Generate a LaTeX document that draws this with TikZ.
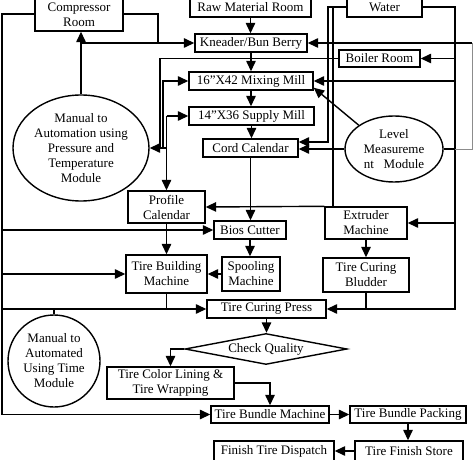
\documentclass[tikz,border=0pt]{standalone}
\usepackage{fontspec}
\setmainfont{Liberation Serif}
\usetikzlibrary{shapes.geometric,arrows.meta,calc}
\begin{document}
\begin{tikzpicture}[x=1bp,y=-1bp,
  font=\fontsize{13bp}{15bp}\selectfont,
  line width=1.4bp,
  box/.style={draw,rectangle,inner sep=0pt,align=center},
  oval/.style={draw,ellipse,inner sep=0pt,align=center},
  arr/.style={-{Triangle[length=10.5bp,width=9.5bp]}},
  faint/.style={draw=black!45,line width=0.8bp},
]
\useasboundingbox (0,0) rectangle (474,460);
% boxes
\node[box,minimum width=88bp,minimum height=32bp] (comp) at (79,15) {Compressor\\Room};
\node[box,minimum width=121bp,minimum height=20bp] (raw) at (250.5,7) {Raw Material Room};
\node[box,minimum width=75bp,minimum height=20bp] (water) at (384.5,7) {Water};
\node[box,minimum width=112bp,minimum height=18bp] (kneader) at (251,43) {Kneader/Bun Berry};
\node[box,minimum width=81bp,minimum height=17bp] (boiler) at (379.5,58.5) {Boiler Room};
\node[box,minimum width=124bp,minimum height=18bp] (mix) at (251,81) {16”X42 Mixing Mill};
\node[box,minimum width=125bp,minimum height=18bp] (supply) at (251.5,116) {14”X36 Supply Mill};
\node[box,minimum width=95bp,minimum height=18bp] (cord) at (250.5,148) {Cord Calendar};
\node[box,minimum width=77bp,minimum height=32bp] (profile) at (166.5,207) {Profile\\Calendar};
\node[box,minimum width=72bp,minimum height=18bp] (bios) at (250,230) {Bios Cutter};
\node[box,minimum width=82bp,minimum height=32bp] (extruder) at (366,223) {Extruder\\Machine};
\node[box,minimum width=81bp,minimum height=38bp] (building) at (166.5,274) {Tire Building\\Machine};
\node[box,minimum width=58bp,minimum height=34bp] (spooling) at (251,274) {Spooling\\Machine};
\node[box,minimum width=86bp,minimum height=34bp] (bludder) at (366,275) {Tire Curing\\Bludder};
\node[box,minimum width=119bp,minimum height=18bp] (press) at (266.5,309) {Tire Curing Press};
\node[draw,diamond,aspect=5.2,inner sep=0pt,minimum width=162bp,minimum height=31bp] (check) at (266,349) {Check Quality};
\node[box,minimum width=127bp,minimum height=32bp] (colorlin) at (170.5,383) {Tire Color Lining \&\\Tire Wrapping};
\node[box,minimum width=118bp,minimum height=17bp] (bmachine) at (270,414.5) {Tire Bundle Machine};
\node[box,minimum width=116bp,minimum height=17bp] (bpack) at (408,414.5) {Tire Bundle Packing};
\node[box,minimum width=120bp,minimum height=20bp] (dispatch) at (274,451) {Finish Tire Dispatch};
\node[box,minimum width=108bp,minimum height=20bp] (store) at (409,451) {Tire Finish Store};
% ellipses
\node[oval,minimum width=136bp,minimum height=106bp] (mauto) at (81,148) {Manual to\\Automation using\\Pressure and\\Temperature\\Module};
\node[oval,minimum width=98bp,minimum height=66bp] (level) at (394,149) {Level\\Measureme\\nt\ \ \ Module};
\node[draw,circle,inner sep=0pt,align=center,minimum size=92bp] (mtime) at (54,361) {Manual to\\Automated\\Using Time\\Module};
% main column
\draw[arr] (raw.south) -- (raw.south |- kneader.north);
\draw[arr] (kneader.south) -- (kneader.south |- mix.north);
\draw[arr] (mix.south) -- (mix.south |- supply.north);
\draw[arr] (supply.south) -- (supply.south |- cord.north);
\draw[arr] (cord.south) -- (cord.south |- bios.north);
\draw[arr] (bios.south) -- (bios.south |- spooling.north);
\draw[arr] (spooling.west) -- (building.east);
\draw[arr] (profile.south) -- (building.north);
\draw[arr] (extruder.south) -- (extruder.south |- bludder.north);
\draw[arr] (press.south) -- (press.south |- check.north);
\draw[arr] (check.west) -| (colorlin.north);
\draw[arr] (colorlin.east) -| (bmachine.north);
\draw[arr] (bmachine.east) -- (bpack.west);
\draw[arr] (bpack.south) -- (bpack.south |- store.north);
\draw[arr] (store.west) -- (dispatch.east);
% left side
\coordinate (lt) at (2,14);
\coordinate (lb) at (2,414.5);
\draw[arr] (comp.west |- lt) -- (lt) -- (lb) -- (bmachine.west);
\draw[arr] (lt |- bios.west) -- (bios.west);
\draw[arr] (lt |- building.west) -- (building.west);
\draw[arr] (lt |- press.west) -- (press.west);
\draw (building.south) -- (building.south |- press.west);
\draw (mtime.north) -- (mtime.north |- press.west);
% compressor
\coordinate (kj) at (158,43);
\draw[arr] (mauto.north) -- (mauto.north |- comp.south);
\draw[arr] (mauto.north |- kneader.west) -- (kneader.west);
\draw (comp.east |- lt) -| (kj);
% boiler and mills to the left ellipse
\coordinate (bj) at (160,148);
\coordinate (mj) at (163,148);
\draw (boiler.west) -| (bj);
\draw[arr] (profile.north |- mauto.east) -- (mauto.east);
\draw[arr] (mj) |- (mix.west);
\draw[arr] (profile.north |- supply.west) -- (supply.west);
\draw[arr] (profile.north |- supply.west) -- (profile.north);
% water
\coordinate (wa) at (328,142);
\coordinate (wb) at (333,7);
\draw[arr] (water.west) -| (wa) -- (wa -| cord.east);
\draw (wb) -- (wb |- extruder.north);
\draw[arr] (extruder.north west) -- (profile.east);
% right side
\coordinate (ra) at (455,7);
\coordinate (rb) at (455,309);
\coordinate (ka) at (472,43);
\draw[arr] (water.east) -| (rb) -- (press.east);
\draw[arr] (ra |- boiler.east) -- (boiler.east);
\draw[arr] (ra |- mix.east) -- (mix.east);
\draw[arr] (ra |- extruder.east) -- (extruder.east);
\draw (bludder.south) -- (bludder.south |- press.east);
\draw[arr] (ka) -- (kneader.east);
\draw (level.east) -- (level.east -| ra);
\draw[faint] (level.east -| ra) -- (level.east -| ka) -- (ka);
\draw[arr] (level.west) -- (level.west -| cord.east);
\draw[arr] (level.146) -- ($(mix.south east)+(0,-3)$);
\end{tikzpicture}
\end{document}
